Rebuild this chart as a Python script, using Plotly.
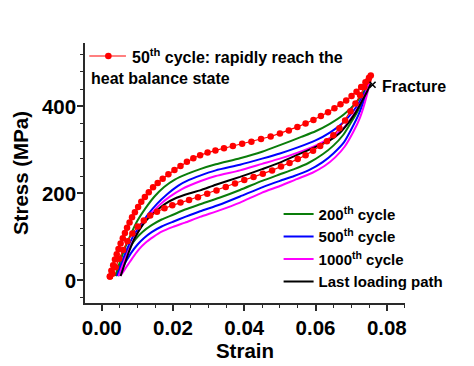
import plotly.graph_objects as go

# ---------------- data ----------------
# 50th cycle (red, markers): loading branch then unloading branch
red_up_x = [0.0023,0.0027,0.0032,0.0037,0.0042,0.0047,0.0053,0.0059,0.0065,0.0071,0.0078,0.0085,0.0093,0.0102,
            0.0111,0.0121,0.0132,0.0144,0.0157,0.0171,0.0187,0.0204,0.0221,0.0239,0.0257,0.0276,0.0297,0.0319,
            0.0343,0.0368,0.0394,0.0420,0.0447,0.0474,0.0500,0.0525,0.0549,0.0572,0.0594,0.0615,0.0635,0.0653,
            0.0670,0.0686,0.0701,0.0715,0.0728,0.0740,0.0750,0.0755]
red_up_y = [9,22,35,48,60,72,85,97,109,121,133,145,157,169,181,192,203,214,224,234,244,254,263,273,281,288,294,299,
            304,309,314,319,325,331,338,345,353,361,369,378,387,396,405,414,424,434,445,456,466,471]
red_lo_x = [0.0748,0.0737,0.0725,0.0712,0.0698,0.0683,0.0667,0.0650,0.0632,0.0613,0.0593,0.0572,0.0550,0.0527,
            0.0503,0.0478,0.0452,0.0426,0.0400,0.0374,0.0348,0.0322,0.0296,0.0270,0.0245,0.0221,0.0198,0.0176,
            0.0155,0.0136,0.0118,0.0101,0.0086,0.0072,0.0060,0.0049,0.0039,0.0030,0.0023]
red_lo_y = [460,445,426,407,389,368,350,334,320,309,298,288,279,270,262,253,245,238,231,223,215,207,199,191,185,
            179,173,166,158,149,138,124,108,90,70,50,30,15,9]

# 200th cycle (green)
g_up_x = [0.0038,0.0050,0.0065,0.0080,0.0100,0.0122,0.0148,0.0175,0.0205,0.0240,0.0276,0.0320,0.0388,0.0450,
          0.0500,0.0560,0.0600,0.0640,0.0680,0.0715,0.0740,0.0752]
g_up_y = [10,40,74,103,137,165,193,215,232,245,256,267,281,296,311,330,343,360,382,410,440,463]
g_lo_x = [0.0740,0.0720,0.0700,0.0678,0.0650,0.0620,0.0580,0.0540,0.0500,0.0450,0.0388,0.0330,0.0276,0.0234,
          0.0200,0.0168,0.0140,0.0115,0.0095,0.0078,0.0062,0.0050,0.0040]
g_lo_y = [430,392,364,335,310,290,270,256,244,229,208,190,175,163,151,140,127,112,95,75,50,28,10]

# 500th cycle (blue)
b_up_x = [0.0043,0.0055,0.0070,0.0087,0.0107,0.0130,0.0155,0.0182,0.0215,0.0245,0.0276,0.0320,0.0388,0.0450,
          0.0500,0.0550,0.0600,0.0640,0.0680,0.0715,0.0740,0.0752]
b_up_y = [10,38,70,100,125,152,176,197,218,231,241,253,266,280,292,306,322,340,365,400,435,460]
b_lo_x = [0.0740,0.0720,0.0700,0.0680,0.0650,0.0620,0.0580,0.0540,0.0500,0.0450,0.0388,0.0330,0.0276,0.0234,
          0.0200,0.0168,0.0140,0.0118,0.0100,0.0083,0.0068,0.0055,0.0045]
b_lo_y = [425,380,347,318,292,272,253,240,229,214,193,174,159,146,135,124,111,97,82,64,44,25,10]

# 1000th cycle (magenta)
m_up_x = [0.0047,0.0060,0.0075,0.0092,0.0112,0.0135,0.0160,0.0190,0.0225,0.0276,0.0320,0.0388,0.0450,0.0500,
          0.0550,0.0600,0.0640,0.0680,0.0715,0.0740,0.0753]
m_up_y = [10,38,68,97,125,150,172,192,210,228,240,253,268,280,294,310,328,352,392,430,462]
m_lo_x = [0.0742,0.0725,0.0705,0.0682,0.0655,0.0625,0.0590,0.0547,0.0500,0.0450,0.0388,0.0330,0.0276,0.0234,
          0.0200,0.0168,0.0145,0.0122,0.0105,0.0090,0.0075,0.0062,0.0052]
m_lo_y = [420,375,340,308,283,263,247,233,217,202,179,161,146,133,123,112,100,86,72,56,38,22,10]

# Last loading path (black)
k_x = [0.0053,0.0062,0.0075,0.0090,0.0107,0.0125,0.0150,0.0178,0.0210,0.0245,0.0276,0.0320,0.0388,0.0450,
       0.0500,0.0547,0.0600,0.0640,0.0668,0.0690,0.0710,0.0730,0.0745,0.0755]
k_y = [10,32,63,93,118,138,158,176,190,200,207,220,238,256,271,288,307,322,339,360,383,412,435,452]

fracture_x = [0.0760]
fracture_y = [450]

x_ticks = [0.00, 0.02, 0.04, 0.06, 0.08]
y_ticks = [0, 200, 400]

FONT = "Liberation Sans, Arial, sans-serif"
AX = "#2a2a2a"

fig = go.Figure()

def loop(xu, yu, xl, yl):
    return xu + xl, yu + yl

for (xu, yu, xl, yl, col, name) in [
    (g_up_x, g_up_y, g_lo_x, g_lo_y, "#0a7d0a", "200<sup>th</sup> cycle"),
    (b_up_x, b_up_y, b_lo_x, b_lo_y, "#0000ff", "500<sup>th</sup> cycle"),
    (m_up_x, m_up_y, m_lo_x, m_lo_y, "#ff00ff", "1000<sup>th</sup> cycle"),
]:
    xx, yy = loop(xu, yu, xl, yl)
    fig.add_trace(go.Scatter(x=xx, y=yy, mode="lines", name=name,
                             line=dict(color=col, width=2, shape="spline", smoothing=0.6)))

fig.add_trace(go.Scatter(x=k_x, y=k_y, mode="lines", name="Last loading path",
                         line=dict(color="black", width=2, shape="spline", smoothing=0.6)))

rx, ry = loop(red_up_x, red_up_y, red_lo_x, red_lo_y)
fig.add_trace(go.Scatter(x=rx, y=ry, mode="lines+markers", showlegend=False,
                         line=dict(color="#ff0000", width=1.2),
                         marker=dict(color="#ff0000", size=6.5)))

fig.add_trace(go.Scatter(x=fracture_x, y=fracture_y, mode="markers", showlegend=False,
                         marker=dict(symbol="x-thin", size=6, line=dict(color="black", width=1.6))))

fig.add_annotation(x=0.0781, y=445, xref="x", yref="y", text="Fracture", showarrow=False,
                   xanchor="left", yanchor="middle",
                   font=dict(family=FONT, size=16, color="black", weight="bold"))

# top-left legend for the 50th cycle
fig.add_shape(type="line", xref="paper", yref="paper", x0=0.0134, x1=0.128, y0=0.95, y1=0.95,
              line=dict(color="#ff0000", width=1.2))
fig.add_shape(type="circle", xref="paper", yref="paper", xsizemode="pixel", ysizemode="pixel",
              xanchor=0.073, yanchor=0.95, x0=-3.3, x1=3.3, y0=-3.3, y1=3.3,
              fillcolor="#ff0000", line=dict(color="#ff0000", width=0))
fig.add_annotation(x=0.141, y=0.95, xref="paper", yref="paper", showarrow=False,
                   text="50<sup>th</sup> cycle: rapidly reach the", xanchor="left", yanchor="middle",
                   font=dict(family=FONT, size=16, color="black", weight="bold"))
fig.add_annotation(x=0.013, y=0.865, xref="paper", yref="paper", showarrow=False,
                   text="heat balance state", xanchor="left", yanchor="middle",
                   font=dict(family=FONT, size=16, color="black", weight="bold"))

fig.update_layout(
    width=474, height=366,
    margin=dict(l=85, r=69, t=43, b=63, autoexpand=False),
    plot_bgcolor="white", paper_bgcolor="white",
    font=dict(family=FONT, color="black"),
    hovermode=False,
    legend=dict(x=0.605, y=0.405, xanchor="left", yanchor="top", bgcolor="rgba(0,0,0,0)",
                font=dict(family=FONT, size=15, color="black", weight="bold"),
                tracegroupgap=0),
    xaxis=dict(range=[-0.0047, 0.0851], tickvals=x_ticks, tickformat=".2f", automargin=False,
               showline=True, linecolor=AX, linewidth=1.5, showgrid=False, zeroline=False,
               ticks="outside", ticklen=6, tickwidth=1.5, tickcolor=AX,
               minor=dict(dtick=0.005, tick0=0, ticks="outside", ticklen=3, tickwidth=1.2, tickcolor=AX),
               tickfont=dict(family=FONT, size=20.5, color="black", weight="bold"),
               title=dict(text="Strain", font=dict(family=FONT, size=20.5, color="black", weight="bold"),
                          standoff=4)),
    yaxis=dict(range=[-52, 546], tickvals=y_ticks, automargin=False,
               showline=True, linecolor=AX, linewidth=1.5, showgrid=False, zeroline=False,
               ticks="outside", ticklen=6, tickwidth=1.5, tickcolor=AX, ticklabelstandoff=-3,
               minor=dict(dtick=40, tick0=0, ticks="outside", ticklen=3, tickwidth=1.2, tickcolor=AX),
               tickfont=dict(family=FONT, size=20.5, color="black", weight="bold"),
               title=dict(text="Stress (MPa)", font=dict(family=FONT, size=20.5, color="black", weight="bold"),
                          standoff=8)),
)

fig.write_html("out.html", config={"displayModeBar": False},
               post_script="document.body.style.margin='0px';")
